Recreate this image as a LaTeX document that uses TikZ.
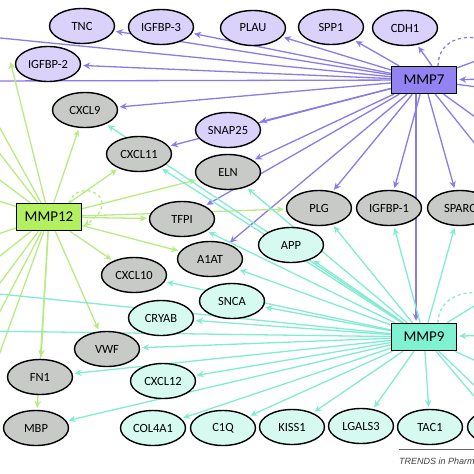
\documentclass[tikz,border=0pt]{standalone}
\usepackage{fontspec}
\setmainfont{Carlito}
\newfontfamily\trendsfont{Liberation Sans}
\usetikzlibrary{shapes.geometric,arrows.meta,backgrounds}
\definecolor{pline}{RGB}{140,122,232}
\definecolor{pfill}{RGB}{218,210,250}
\definecolor{pbox}{RGB}{146,130,242}
\definecolor{gfill}{RGB}{200,202,200}
\definecolor{cline}{RGB}{128,236,210}
\definecolor{cfill}{RGB}{214,250,240}
\definecolor{cbox}{RGB}{128,242,212}
\definecolor{lline}{RGB}{184,236,128}
\definecolor{lbox}{RGB}{178,240,96}
\begin{document}
\begin{tikzpicture}
    [
        x=1pt, y=-1pt,
        gene/.style={ellipse, draw, line width=1.4pt, minimum width=65pt, minimum height=35pt, inner sep=0pt, font=\fontsize{12.5}{14}\selectfont},
        pgene/.style={gene, fill=pfill},
        ggene/.style={gene, fill=gfill},
        cgene/.style={gene, fill=cfill},
        mmp/.style={rectangle, draw, line width=1.4pt, minimum width=65pt, minimum height=27pt, inner sep=0pt, font=\fontsize{15}{17}\selectfont},
        e7/.style={pline, line width=1.3pt, -{Stealth[length=7pt,width=6.5pt]}, shorten >=2pt},
        e9/.style={cline, line width=1.3pt, -{Stealth[length=7pt,width=6.5pt]}, shorten >=2pt},
        e12/.style={lline, line width=1.3pt, -{Stealth[length=7pt,width=6.5pt]}, shorten >=2pt},
    ]
    \useasboundingbox (0,0) rectangle (474,474);
    % enzymes
    \node (mmp7) at (424,80) [mmp, fill=pbox] {MMP7};
    \node (mmp9) at (424,337) [mmp, fill=cbox] {MMP9};
    \node (mmp12) at (49,217) [mmp, fill=lbox] {MMP12};
    % MMP7 substrates
    \node (tnc) at (82,26) [pgene] {TNC};
    \node (igfbp3) at (161,27) [pgene] {IGFBP-3};
    \node (plau) at (253,28) [pgene] {PLAU};
    \node (spp1) at (331,27) [pgene] {SPP1};
    \node (cdh1) at (405,28) [pgene] {CDH1};
    \node (igfbp2) at (48,64) [pgene] {IGFBP-2};
    \node (snap25) at (228,130) [pgene] {SNAP25};
    % shared substrates
    \node (cxcl9) at (85,110) [ggene] {CXCL9};
    \node (cxcl11) at (139,154) [ggene] {CXCL11};
    \node (eln) at (228,172) [ggene] {ELN};
    \node (tfpi) at (182,219) [ggene] {TFPI};
    \node (a1at) at (210,259) [ggene] {A1AT};
    \node (cxcl10) at (134,275) [ggene] {CXCL10};
    \node (plg) at (319,208) [ggene] {PLG};
    \node (igfbp1) at (389,208) [ggene] {IGFBP-1};
    \node (sparc) at (460,208) [ggene] {SPARC};
    \node (vwf) at (107,349) [ggene] {VWF};
    \node (fn1) at (40,377) [ggene] {FN1};
    \node (mbp) at (36,428) [ggene] {MBP};
    % MMP9 substrates
    \node (app) at (291,245) [cgene] {APP};
    \node (snca) at (232,301) [cgene] {SNCA};
    \node (cryab) at (161,318) [cgene] {CRYAB};
    \node (cxcl12) at (163,381) [cgene] {CXCL12};
    \node (col4a1) at (153,428) [cgene] {COL4A1};
    \node (c1q) at (223,428) [cgene] {C1Q};
    \node (kiss1) at (292,427) [cgene] {KISS1};
    \node (lgals3) at (361,426) [cgene] {LGALS3};
    \node (tac1) at (430,427) [cgene] {TAC1};
    \node (more9) at (500,427) [cgene] {};
    % ends off the picture
    \coordinate (o7a) at (-20,36);
    \coordinate (o7b) at (-20,81);
    \coordinate (o7c) at (500,52);
    \coordinate (o7d) at (500,90);
    \coordinate (o7e) at (500,135);
    \coordinate (o7f) at (500,175);
    \coordinate (i7) at (500,79);
    \coordinate (loop7) at (500,48);
    \coordinate (o9a) at (-20,292);
    \coordinate (o9b) at (-20,331);
    \coordinate (o9c) at (500,290);
    \coordinate (o9d) at (500,372);
    \coordinate (o9e) at (500,410);
    \coordinate (i9) at (500,335);
    \coordinate (loop9) at (500,300);
    \coordinate (o12a) at (-20,92);
    \coordinate (o12b) at (-20,128);
    \coordinate (o12c) at (-20,165);
    \coordinate (o12d) at (-20,195);
    \coordinate (o12e) at (-20,240);
    \coordinate (o12f) at (-20,272);
    \coordinate (o12g) at (-20,310);
    \coordinate (o12h) at (-20,350);
    \coordinate (o12i) at (-10,380);
    \coordinate (o12j) at (10,60);
    \begin{scope}[on background layer]
        % MMP7
        \draw [e7] (mmp7) -- (tnc);
        \draw [e7] (mmp7) -- (igfbp3);
        \draw [e7] (mmp7) -- (plau);
        \draw [e7] (mmp7) -- (spp1);
        \draw [e7] ([xshift=8pt]mmp7.north) -- (cdh1);
        \draw [e7] (mmp7) -- (igfbp2);
        \draw [e7] (mmp7) -- (cxcl9);
        \draw [e7] (mmp7) -- (snap25);
        \draw [e7] (mmp7) -- (cxcl11);
        \draw [e7] (mmp7) -- (eln);
        \draw [e7] (mmp7) -- (tfpi);
        \draw [e7] (mmp7) -- (a1at);
        \draw [e7] (mmp7) -- (plg);
        \draw [e7] (mmp7) -- (igfbp1);
        \draw [e7] (mmp7) -- (sparc);
        \draw [e7] ([xshift=-8pt]mmp7.south) -- ([xshift=-8pt]mmp9.north);
        \draw [e7] (mmp7) -- (o7a);
        \draw [e7] (mmp7) -- (o7b);
        \draw [e7] (mmp7) -- (o7c);
        \draw [e7] (mmp7) -- (o7d);
        \draw [e7] (mmp7) -- (o7e);
        \draw [e7] (mmp7) -- (o7f);
        \draw [e7] (i7) -- (mmp7);
        \draw [e7, dashed] ([xshift=14pt]mmp7.north) .. controls (438,38) and (470,30) .. (loop7);
        % MMP12
        \draw [e12] (mmp12) -- (o12a);
        \draw [e12] (mmp12) -- (o12b);
        \draw [e12] (mmp12) -- (o12c);
        \draw [e12] (mmp12) -- (o12d);
        \draw [e12] (mmp12) -- (o12e);
        \draw [e12] (mmp12) -- (o12f);
        \draw [e12] (mmp12) -- (o12g);
        \draw [e12] (mmp12) -- (o12h);
        \draw [e12] (mmp12) -- (o12i);
        \draw [e12] (mmp12) -- (o12j);
        \draw [e12] (mmp12) -- (cxcl9);
        \draw [e12] (mmp12) -- (cxcl11);
        \draw [e12] (mmp12) -- (eln);
        \draw [e12] (mmp12) -- (tfpi);
        \draw [e12] (mmp12) -- (a1at);
        \draw [e12] (mmp12) -- (cxcl10);
        \draw [e12] (mmp12) -- (plg);
        \draw [e12] (mmp12) -- (vwf);
        \draw [e12] (mmp12) -- (fn1);
        \draw [e12] (mmp12) -- (mbp);
        \draw [e12, dashed] ([xshift=20pt]mmp12.north) .. controls (78,176) and (126,198) .. ([yshift=-10pt]mmp12.east);
        % MMP9
        \draw [e9] (mmp9) -- (cxcl9);
        \draw [e9] (mmp9) -- (cxcl11);
        \draw [e9] (mmp9) -- (eln);
        \draw [e9] (mmp9) -- (tfpi);
        \draw [e9] (mmp9) -- (a1at);
        \draw [e9] (mmp9) -- (app);
        \draw [e9] (mmp9) -- (plg);
        \draw [e9] (mmp9) -- (igfbp1);
        \draw [e9] (mmp9) -- (sparc);
        \draw [e9] (mmp9) -- (snca);
        \draw [e9] (mmp9) -- (cxcl10);
        \draw [e9] (mmp9) -- (cryab);
        \draw [e9] (mmp9) -- (vwf);
        \draw [e9] (mmp9) -- (fn1);
        \draw [e9] (mmp9) -- (cxcl12);
        \draw [e9] (mmp9) -- (mbp);
        \draw [e9] (mmp9) -- (col4a1);
        \draw [e9] (mmp9) -- (c1q);
        \draw [e9] (mmp9) -- (kiss1);
        \draw [e9] (mmp9) -- (lgals3);
        \draw [e9] (mmp9) -- (tac1);
        \draw [e9] (mmp9) -- (more9);
        \draw [e9] (mmp9) -- (o9a);
        \draw [e9] (mmp9) -- (o9b);
        \draw [e9] (mmp9) -- (o9c);
        \draw [e9] (mmp9) -- (o9d);
        \draw [e9] (mmp9) -- (o9e);
        \draw [e9] (i9) -- (mmp9);
        \draw [e9, dashed] ([xshift=14pt]mmp9.north) .. controls (438,296) and (470,286) .. (loop9);
    \end{scope}
    % journal mark
    \node (trends) at (399,462) [anchor=west, inner sep=0pt, text=black!75, font=\trendsfont\itshape\fontsize{9}{10}\selectfont] {TRENDS in Pharmacological Sciences};
    \draw [black!60, line width=0.6pt] ([yshift=8pt]trends.north west) -- ++(80,0);
\end{tikzpicture}
\end{document}
